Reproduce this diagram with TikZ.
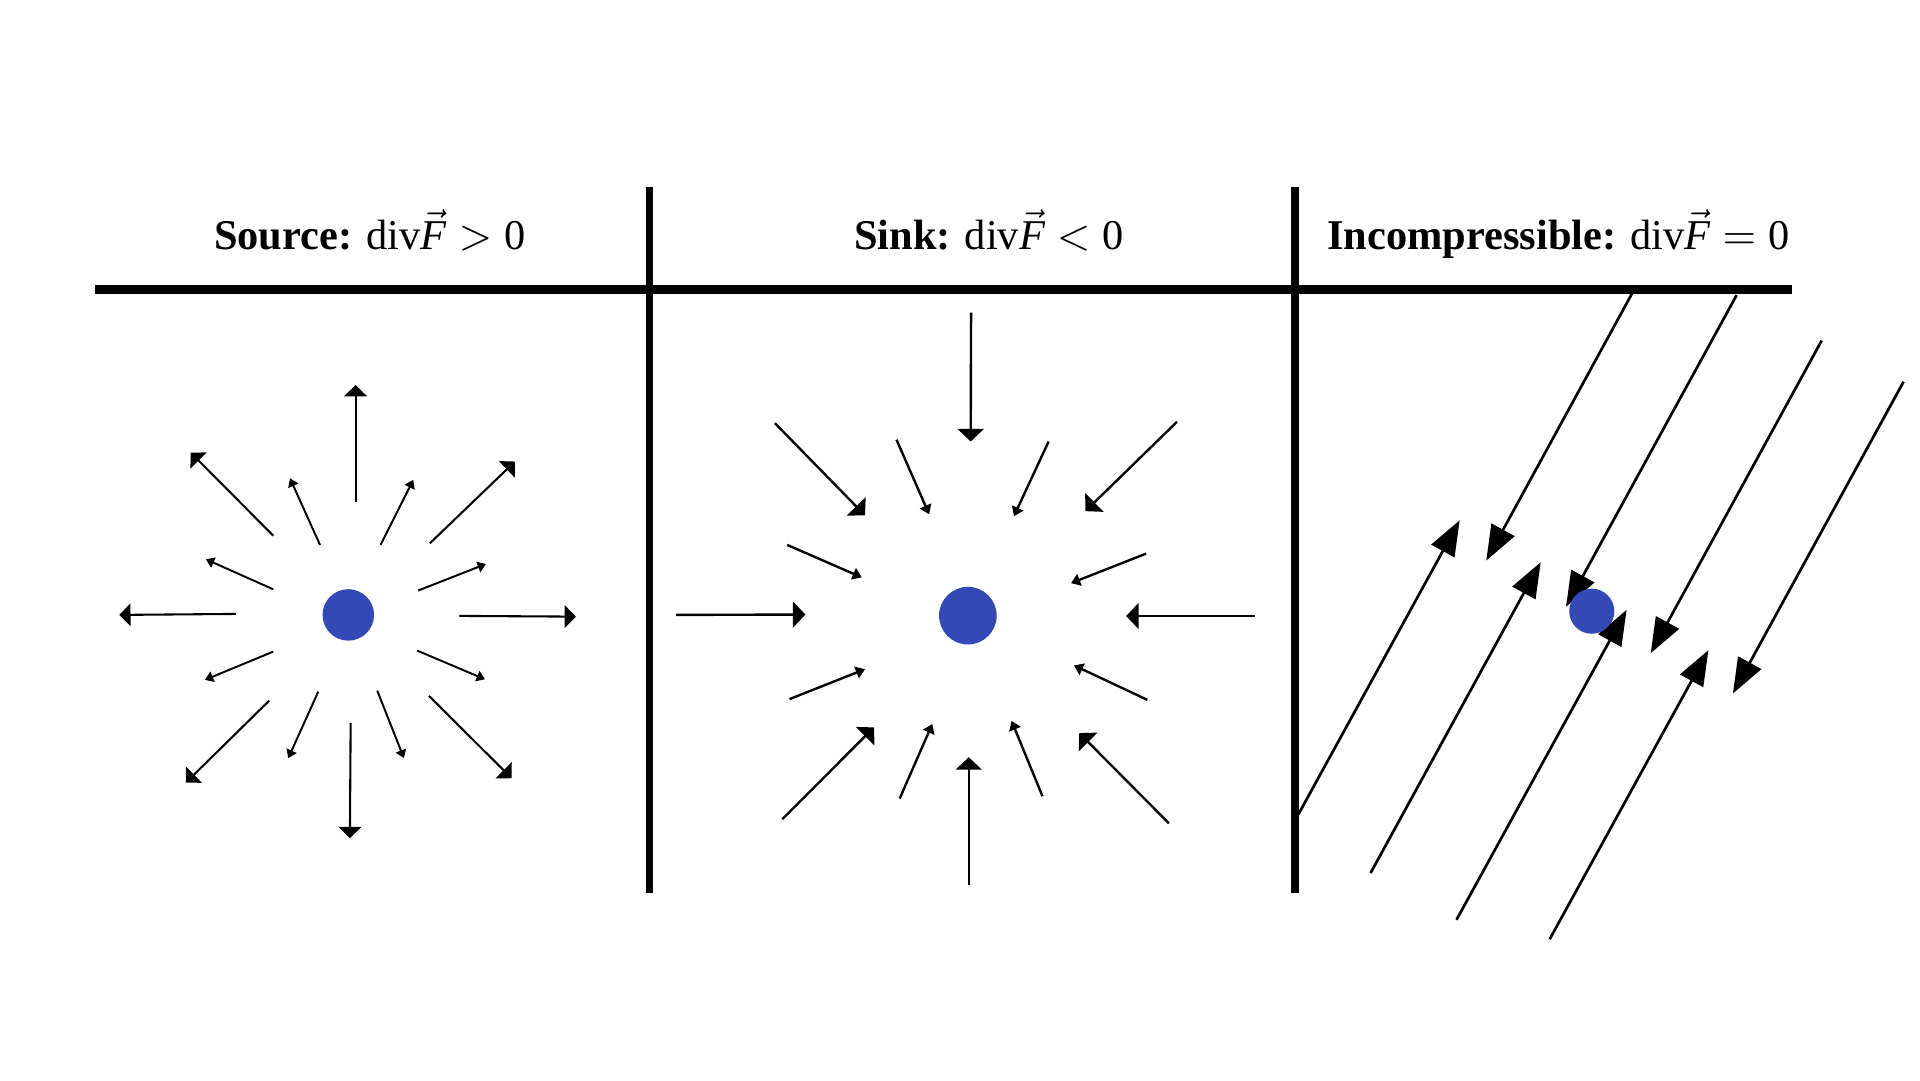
\documentclass[tikz,border=0pt]{standalone}
\usepackage{fontspec}
\setmainfont{Liberation Serif}
\usetikzlibrary{arrows.meta}
\definecolor{dotblue}{RGB}{51,73,182}
\newcommand{\vecF}{\ensuremath{\vec{\hbox{\itshape F}}}}
\begin{document}
\begin{tikzpicture}[x=0.01cm,y=-0.01cm,
  frame/.style={line width=1.75pt},
  srcbig/.style={line width=0.48pt,-{Triangle[width=5.2pt,length=2.6pt]}},
  srcsmall/.style={line width=0.45pt,-{Triangle[width=2.5pt,length=1.9pt]}},
  snkbig/.style={line width=0.55pt,-{Triangle[width=6pt,length=2.9pt]}},
  snksmall/.style={line width=0.55pt,-{Triangle[width=2.8pt,length=2.1pt]}},
  flow/.style={line width=0.62pt,-{Triangle[width=6pt,length=8.1pt]}},
  dot/.style={circle, fill=dotblue, inner sep=0pt},
  title/.style={anchor=base west, inner sep=0pt, font=\fontsize{9.8}{12}\selectfont}]
\fill[white] (0,0) rectangle (1560,877.5);
\useasboundingbox (0,0) rectangle (1560,877.5);

% titles
\node[title] (t1) at (173.3,202.5) {\textbf{Source:} div\vecF$\;>\;$0};
\node[title] (t2) at (693.2,202.5) {\textbf{Sink:} div\vecF$\;<\;$0};
\node[title] (t3) at (1077.7,202.5) {\textbf{Incompressible:} div\vecF$\;=\;$0};

% frame
\draw[line width=2.05pt] (77,235.2) -- (1456.3,235.2);
\draw[frame] (527.8,151.6) -- (527.8,725.7);
\draw[frame] (1052,151.6) -- (1052,725.7);

% source
\draw[srcbig] (288.9,407.5) -- (288.9,312.8);
\draw[srcbig] (222.0,435.2) -- (154.9,367.7);
\draw[srcbig] (349.3,441.4) -- (418.4,375.0);
\draw[srcsmall] (260.0,442.7) -- (235.6,388.6);
\draw[srcsmall] (309.2,442.7) -- (335.8,389.9);
\draw[srcsmall] (222.0,478.8) -- (167.3,454.4);
\draw[srcsmall] (339.8,479.8) -- (394.8,458.2);
\draw[srcbig] (191.7,498.8) -- (96.9,499.6);
\draw[srcbig] (373.2,500.4) -- (467.9,501.0);
\draw[srcsmall] (222.0,529.4) -- (166.5,552.4);
\draw[srcsmall] (339.0,528.6) -- (394.0,551.9);
\draw[srcbig] (218.8,569.2) -- (151.1,635.8);
\draw[srcbig] (348.5,565.4) -- (415.7,632.3);
\draw[srcsmall] (258.6,561.9) -- (234.2,616.0);
\draw[srcsmall] (306.5,561.1) -- (328.2,616.0);
\draw[srcbig] (284.9,587.6) -- (284.3,681.0);

% sink
\draw[snkbig] (789.0,254.0) -- (788.7,358.7);
\draw[snkbig] (629.6,343.8) -- (702.8,418.7);
\draw[snkbig] (956.4,342.6) -- (881.9,415.3);
\draw[snksmall] (728.4,357.2) -- (754.9,417.8);
\draw[snksmall] (852.0,358.7) -- (823.8,419.4);
\draw[snksmall] (639.5,442.7) -- (700.2,469.1);
\draw[snksmall] (931.2,449.8) -- (870.2,473.8);
\draw[snkbig] (549.4,499.6) -- (654.4,499.3);
\draw[snkbig] (1019.4,500.5) -- (915.0,500.5);
\draw[snksmall] (641.5,568.0) -- (702.8,543.7);
\draw[snksmall] (932.2,568.6) -- (872.6,540.6);
\draw[snkbig] (635.6,665.6) -- (710.1,591.0);
\draw[snkbig] (949.8,669.0) -- (876.9,595.6);
\draw[snksmall] (731.0,648.8) -- (757.5,588.2);
\draw[snksmall] (847.0,646.9) -- (821.9,585.7);
\draw[snkbig] (787.1,719.4) -- (787.1,615.2);

% incompressible
\draw[flow] (1326.2,238.1) -- (1207.6,455.4);
\draw[flow] (1411.0,239.8) -- (1272.4,493.0);
\draw[flow] (1480.1,276.7) -- (1341.2,530.7);
\draw[flow] (1546.6,310.2) -- (1408.0,563.4);
\draw[flow] (1054.8,661.9) -- (1186.0,422.7);
\draw[flow] (1113.6,709.3) -- (1251.8,456.8);
\draw[flow] (1183.4,747.3) -- (1321.6,495.5);
\draw[flow] (1259.1,763.1) -- (1388.1,528.2);

% dots
\node[dot, minimum size=0.418cm] (srcdot) at (283.0,499.6) {};
\node[dot, minimum size=0.468cm] (snkdot) at (786.4,500.2) {};
\node[dot, minimum size=0.366cm] (incdot) at (1293.3,496.6) {};
\end{tikzpicture}
\end{document}
